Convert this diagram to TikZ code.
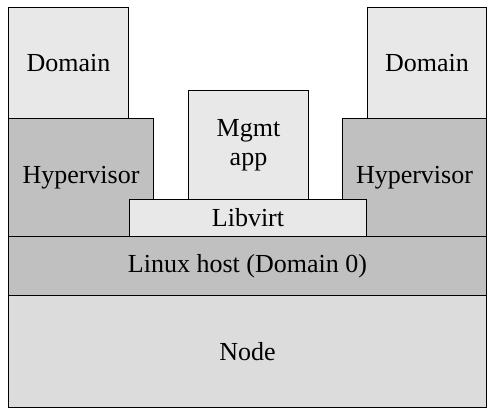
\documentclass[tikz,border=0pt]{standalone}
\usepackage{fontspec}
\setmainfont{Liberation Serif}
\newfontfamily\boxfont{Liberation Serif}
\usetikzlibrary{positioning}
\definecolor{lightbox}{HTML}{E8E8E8}
\definecolor{midbox}{HTML}{DCDCDC}
\definecolor{darkbox}{HTML}{C0C0C0}

\begin{document}
\begin{tikzpicture}[x=1pt, y=-1pt,
          box/.style={rectangle, draw, line width=1pt, anchor=north west, inner sep=0pt, align=center, font=\boxfont\fontsize{26}{29}\selectfont}]
          \useasboundingbox (0,0) rectangle (496,414);

          % bottom layers
          \node[box, fill=midbox, minimum width=478pt, minimum height=112pt] (node) at (8,295) {Node};
          \node[box, fill=darkbox, minimum width=478pt, minimum height=59pt] (linux) at (8,236) {Linux host (Domain 0)};

          % hypervisors, libvirt on top of them
          \node[box, fill=darkbox, minimum width=145pt, minimum height=118pt] (hypleft) at (8,118) {Hypervisor};
          \node[box, fill=darkbox, minimum width=144pt, minimum height=118pt] (hypright) at (342,118) {Hypervisor};
          \node[box, fill=lightbox, minimum width=237pt, minimum height=37pt] (libvirt) at (129,199) {Libvirt};

          % top layers
          \node[box, fill=lightbox, minimum width=120pt, minimum height=111pt] (domleft) at (8,7) {Domain};
          \node[box, fill=lightbox, minimum width=119pt, minimum height=111pt] (domright) at (367,7) {Domain};
          \node[box, fill=lightbox, minimum width=120pt, minimum height=109pt] (mgmt) at (188,90) {Mgmt\\app};
        \end{tikzpicture}
\end{document}
